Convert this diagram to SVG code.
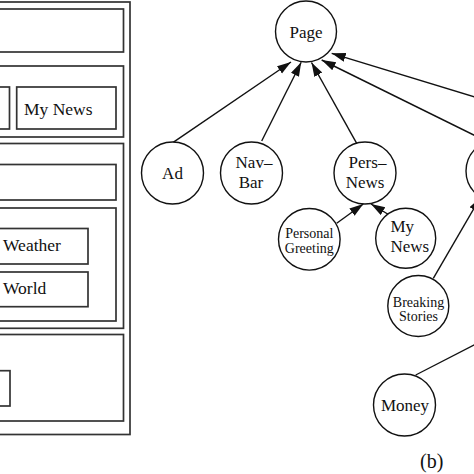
<svg xmlns="http://www.w3.org/2000/svg" width="474" height="474" viewBox="0 0 474 474">
  <style>
    .box { fill: none; stroke: #333; stroke-width: 1.7; }
    .node { fill: #fff; stroke: #111; stroke-width: 1.4; }
    .edge { fill: none; stroke: #111; stroke-width: 1.4; }
    .t { font-family: "Liberation Serif", "Times New Roman", serif; fill: #111; }
    .lbl { font-size: 17px; text-anchor: middle; }
    .sm { font-size: 14px; text-anchor: middle; }
    .box-t { font-size: 17.5px; }
  </style>
  <defs>
    <marker id="arrow" markerUnits="userSpaceOnUse" markerWidth="15" markerHeight="10" refX="14" refY="4.5" orient="auto">
      <path d="M0,0 L14,4.5 L0,9 z" fill="#111"/>
    </marker>
  </defs>
  <rect width="474" height="474" fill="#fff"/>

  <g id="layout-a">
    <rect class="box" x="-20" y="2" width="150" height="432.5"/>
    <rect class="box" x="-20" y="9" width="143.5" height="43"/>
    <rect class="box" x="-20" y="66" width="143.5" height="71"/>
    <rect class="box" x="-20" y="87" width="29.5" height="42"/>
    <rect class="box" x="16.7" y="87" width="99.3" height="42"/>
    <text class="t box-t" x="24" y="114.5">My News</text>
    <rect class="box" x="-20" y="143.5" width="143.5" height="184.8"/>
    <rect class="box" x="-20" y="164.5" width="136" height="35.5"/>
    <rect class="box" x="-20" y="208" width="136" height="113"/>
    <rect class="box" x="-20" y="228.5" width="108" height="35.5"/>
    <text class="t box-t" x="3" y="251">Weather</text>
    <rect class="box" x="-20" y="272" width="108" height="34.7"/>
    <text class="t box-t" x="3" y="294">World</text>
    <rect class="box" x="-20" y="334.5" width="143.5" height="86.5"/>
    <rect class="box" x="-20" y="370.7" width="30" height="35.3"/>
  </g>

  <g id="connectors">
    <line class="edge" x1="171.7" y1="143.3" x2="291" y2="62" marker-end="url(#arrow)"/>
    <line class="edge" x1="261.7" y1="141" x2="301.2" y2="62.3" marker-end="url(#arrow)"/>
    <line class="edge" x1="356.7" y1="143.3" x2="311.5" y2="62.5" marker-end="url(#arrow)"/>
    <line class="edge" x1="488" y1="142" x2="321.7" y2="60" marker-end="url(#arrow)"/>
    <line class="edge" x1="520" y1="110.9" x2="331.7" y2="53.3" marker-end="url(#arrow)"/>
    <line class="edge" x1="336.7" y1="223.3" x2="363.3" y2="204" marker-end="url(#arrow)"/>
    <line class="edge" x1="388.5" y1="214.5" x2="371" y2="204" marker-end="url(#arrow)"/>
    <line class="edge" x1="433.3" y1="278.3" x2="480.5" y2="197.3" marker-end="url(#arrow)"/>
    <line class="edge" x1="415.7" y1="375" x2="520" y2="321.3"/>
  </g>

  <g id="node-page">
    <circle class="node" cx="306" cy="31.5" r="30.5"/>
    <text class="t lbl" x="306" y="38">Page</text>
  </g>
  <g id="node-ad">
    <circle class="node" cx="172.5" cy="173" r="31"/>
    <text class="t lbl" x="172.5" y="179">Ad</text>
  </g>
  <g id="node-navbar">
    <circle class="node" cx="251.5" cy="173" r="31"/>
    <text class="t lbl" x="254" y="168">Nav–</text>
    <text class="t lbl" x="251" y="187.5">Bar</text>
  </g>
  <g id="node-persnews">
    <circle class="node" cx="365" cy="173" r="31"/>
    <text class="t lbl" x="367.5" y="168">Pers–</text>
    <text class="t lbl" x="365" y="187.5">News</text>
  </g>
  <g id="node-right">
    <circle class="node" cx="497" cy="171" r="31"/>
  </g>
  <g id="node-personal-greeting">
    <circle class="node" cx="309.3" cy="239.3" r="30.8"/>
    <text class="t sm" x="309.3" y="237.5">Personal</text>
    <text class="t sm" x="309.3" y="252.5">Greeting</text>
  </g>
  <g id="node-mynews">
    <circle class="node" cx="405.7" cy="238.3" r="30"/>
    <text class="t" style="font-size:17px" x="390.5" y="231.5">My</text>
    <text class="t" style="font-size:17px" x="390.5" y="251.5">News</text>
  </g>
  <g id="node-breaking">
    <circle class="node" cx="418.3" cy="306" r="30.5"/>
    <text class="t sm" x="418.5" y="306.5">Breaking</text>
    <text class="t sm" x="418.5" y="321">Stories</text>
  </g>
  <g id="node-money">
    <circle class="node" cx="404.5" cy="405" r="31"/>
    <text class="t lbl" x="405" y="410.5">Money</text>
  </g>
  <text class="t" style="font-size:20px" x="431.7" y="468" text-anchor="middle">(b)</text>
</svg>
